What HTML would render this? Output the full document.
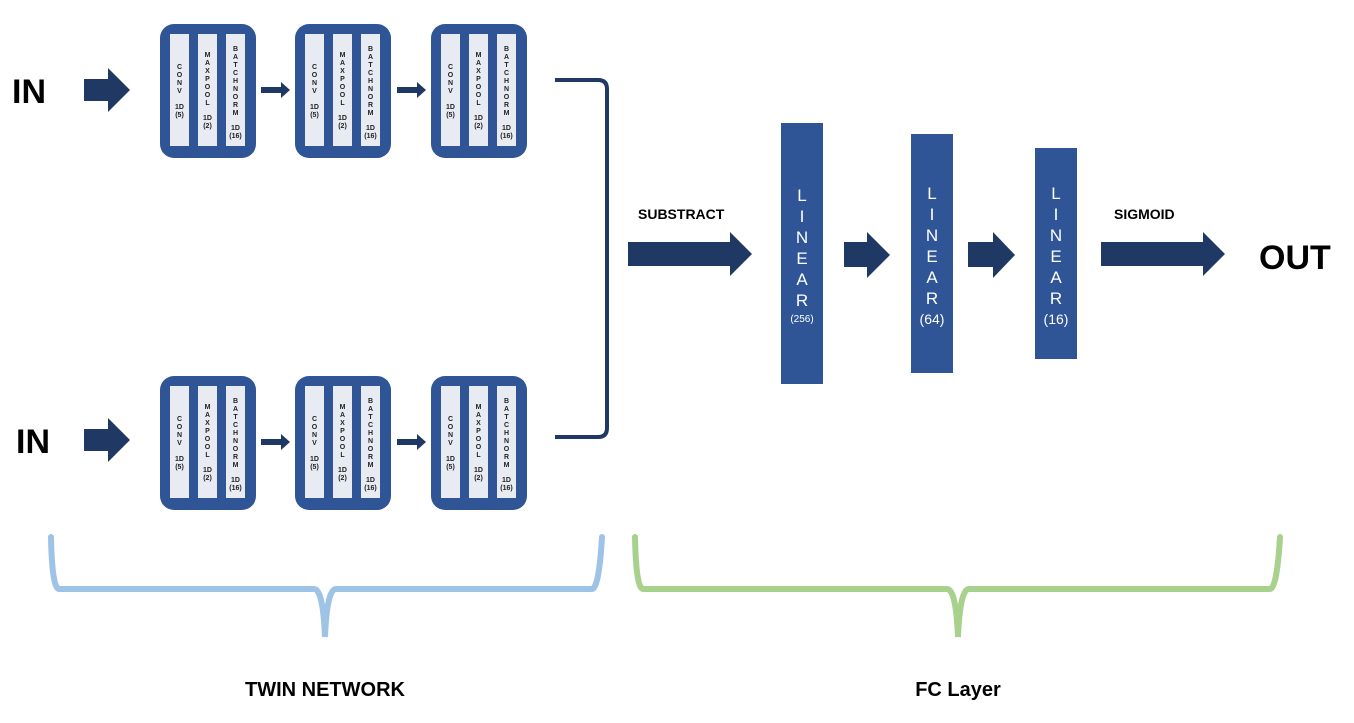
<!DOCTYPE html>
<html><head><meta charset="utf-8"><style>
html,body{margin:0;padding:0;background:#fff;}
svg{display:block;font-family:"Liberation Sans",sans-serif;}
.bt{font-size:7px;font-weight:bold;fill:#222;text-anchor:middle;}
.lt{font-size:17px;fill:#fff;text-anchor:middle;}
</style></head><body>
<svg width="1354" height="723" viewBox="0 0 1354 723" xmlns="http://www.w3.org/2000/svg">
<defs>
<g id="blk">
<rect x="0" y="0" width="96" height="134" rx="14" fill="#2f5597"/>
<rect x="10" y="10" width="19" height="112" fill="#e8ecf2"/>
<rect x="38" y="10" width="19" height="112" fill="#e8ecf2"/>
<rect x="66" y="10" width="19" height="112" fill="#e8ecf2"/>
</g>
</defs>
<g id="blocks">
<use href="#blk" x="160" y="24"/><use href="#blk" x="295" y="24"/><use href="#blk" x="431" y="24"/>
<use href="#blk" x="160" y="376"/><use href="#blk" x="295" y="376"/><use href="#blk" x="431" y="376"/>
</g>
<g class="bt">
<g transform="translate(160,24)"><text x="19.5" y="45"><tspan x="19.5">C</tspan><tspan x="19.5" dy="8">O</tspan><tspan x="19.5" dy="8">N</tspan><tspan x="19.5" dy="8">V</tspan><tspan x="19.5" dy="16">1D</tspan><tspan x="19.5" dy="8">(5)</tspan></text><text x="47.5" y="33"><tspan x="47.5">M</tspan><tspan x="47.5" dy="8">A</tspan><tspan x="47.5" dy="8">X</tspan><tspan x="47.5" dy="8">P</tspan><tspan x="47.5" dy="8">O</tspan><tspan x="47.5" dy="8">O</tspan><tspan x="47.5" dy="8">L</tspan><tspan x="47.5" dy="15">1D</tspan><tspan x="47.5" dy="8">(2)</tspan></text><text x="75.5" y="27"><tspan x="75.5">B</tspan><tspan x="75.5" dy="8">A</tspan><tspan x="75.5" dy="8">T</tspan><tspan x="75.5" dy="8">C</tspan><tspan x="75.5" dy="8">H</tspan><tspan x="75.5" dy="8">N</tspan><tspan x="75.5" dy="8">O</tspan><tspan x="75.5" dy="8">R</tspan><tspan x="75.5" dy="8">M</tspan><tspan x="75.5" dy="15">1D</tspan><tspan x="75.5" dy="8">(16)</tspan></text></g>
<g transform="translate(295,24)"><text x="19.5" y="45"><tspan x="19.5">C</tspan><tspan x="19.5" dy="8">O</tspan><tspan x="19.5" dy="8">N</tspan><tspan x="19.5" dy="8">V</tspan><tspan x="19.5" dy="16">1D</tspan><tspan x="19.5" dy="8">(5)</tspan></text><text x="47.5" y="33"><tspan x="47.5">M</tspan><tspan x="47.5" dy="8">A</tspan><tspan x="47.5" dy="8">X</tspan><tspan x="47.5" dy="8">P</tspan><tspan x="47.5" dy="8">O</tspan><tspan x="47.5" dy="8">O</tspan><tspan x="47.5" dy="8">L</tspan><tspan x="47.5" dy="15">1D</tspan><tspan x="47.5" dy="8">(2)</tspan></text><text x="75.5" y="27"><tspan x="75.5">B</tspan><tspan x="75.5" dy="8">A</tspan><tspan x="75.5" dy="8">T</tspan><tspan x="75.5" dy="8">C</tspan><tspan x="75.5" dy="8">H</tspan><tspan x="75.5" dy="8">N</tspan><tspan x="75.5" dy="8">O</tspan><tspan x="75.5" dy="8">R</tspan><tspan x="75.5" dy="8">M</tspan><tspan x="75.5" dy="15">1D</tspan><tspan x="75.5" dy="8">(16)</tspan></text></g>
<g transform="translate(431,24)"><text x="19.5" y="45"><tspan x="19.5">C</tspan><tspan x="19.5" dy="8">O</tspan><tspan x="19.5" dy="8">N</tspan><tspan x="19.5" dy="8">V</tspan><tspan x="19.5" dy="16">1D</tspan><tspan x="19.5" dy="8">(5)</tspan></text><text x="47.5" y="33"><tspan x="47.5">M</tspan><tspan x="47.5" dy="8">A</tspan><tspan x="47.5" dy="8">X</tspan><tspan x="47.5" dy="8">P</tspan><tspan x="47.5" dy="8">O</tspan><tspan x="47.5" dy="8">O</tspan><tspan x="47.5" dy="8">L</tspan><tspan x="47.5" dy="15">1D</tspan><tspan x="47.5" dy="8">(2)</tspan></text><text x="75.5" y="27"><tspan x="75.5">B</tspan><tspan x="75.5" dy="8">A</tspan><tspan x="75.5" dy="8">T</tspan><tspan x="75.5" dy="8">C</tspan><tspan x="75.5" dy="8">H</tspan><tspan x="75.5" dy="8">N</tspan><tspan x="75.5" dy="8">O</tspan><tspan x="75.5" dy="8">R</tspan><tspan x="75.5" dy="8">M</tspan><tspan x="75.5" dy="15">1D</tspan><tspan x="75.5" dy="8">(16)</tspan></text></g>
<g transform="translate(160,376)"><text x="19.5" y="45"><tspan x="19.5">C</tspan><tspan x="19.5" dy="8">O</tspan><tspan x="19.5" dy="8">N</tspan><tspan x="19.5" dy="8">V</tspan><tspan x="19.5" dy="16">1D</tspan><tspan x="19.5" dy="8">(5)</tspan></text><text x="47.5" y="33"><tspan x="47.5">M</tspan><tspan x="47.5" dy="8">A</tspan><tspan x="47.5" dy="8">X</tspan><tspan x="47.5" dy="8">P</tspan><tspan x="47.5" dy="8">O</tspan><tspan x="47.5" dy="8">O</tspan><tspan x="47.5" dy="8">L</tspan><tspan x="47.5" dy="15">1D</tspan><tspan x="47.5" dy="8">(2)</tspan></text><text x="75.5" y="27"><tspan x="75.5">B</tspan><tspan x="75.5" dy="8">A</tspan><tspan x="75.5" dy="8">T</tspan><tspan x="75.5" dy="8">C</tspan><tspan x="75.5" dy="8">H</tspan><tspan x="75.5" dy="8">N</tspan><tspan x="75.5" dy="8">O</tspan><tspan x="75.5" dy="8">R</tspan><tspan x="75.5" dy="8">M</tspan><tspan x="75.5" dy="15">1D</tspan><tspan x="75.5" dy="8">(16)</tspan></text></g>
<g transform="translate(295,376)"><text x="19.5" y="45"><tspan x="19.5">C</tspan><tspan x="19.5" dy="8">O</tspan><tspan x="19.5" dy="8">N</tspan><tspan x="19.5" dy="8">V</tspan><tspan x="19.5" dy="16">1D</tspan><tspan x="19.5" dy="8">(5)</tspan></text><text x="47.5" y="33"><tspan x="47.5">M</tspan><tspan x="47.5" dy="8">A</tspan><tspan x="47.5" dy="8">X</tspan><tspan x="47.5" dy="8">P</tspan><tspan x="47.5" dy="8">O</tspan><tspan x="47.5" dy="8">O</tspan><tspan x="47.5" dy="8">L</tspan><tspan x="47.5" dy="15">1D</tspan><tspan x="47.5" dy="8">(2)</tspan></text><text x="75.5" y="27"><tspan x="75.5">B</tspan><tspan x="75.5" dy="8">A</tspan><tspan x="75.5" dy="8">T</tspan><tspan x="75.5" dy="8">C</tspan><tspan x="75.5" dy="8">H</tspan><tspan x="75.5" dy="8">N</tspan><tspan x="75.5" dy="8">O</tspan><tspan x="75.5" dy="8">R</tspan><tspan x="75.5" dy="8">M</tspan><tspan x="75.5" dy="15">1D</tspan><tspan x="75.5" dy="8">(16)</tspan></text></g>
<g transform="translate(431,376)"><text x="19.5" y="45"><tspan x="19.5">C</tspan><tspan x="19.5" dy="8">O</tspan><tspan x="19.5" dy="8">N</tspan><tspan x="19.5" dy="8">V</tspan><tspan x="19.5" dy="16">1D</tspan><tspan x="19.5" dy="8">(5)</tspan></text><text x="47.5" y="33"><tspan x="47.5">M</tspan><tspan x="47.5" dy="8">A</tspan><tspan x="47.5" dy="8">X</tspan><tspan x="47.5" dy="8">P</tspan><tspan x="47.5" dy="8">O</tspan><tspan x="47.5" dy="8">O</tspan><tspan x="47.5" dy="8">L</tspan><tspan x="47.5" dy="15">1D</tspan><tspan x="47.5" dy="8">(2)</tspan></text><text x="75.5" y="27"><tspan x="75.5">B</tspan><tspan x="75.5" dy="8">A</tspan><tspan x="75.5" dy="8">T</tspan><tspan x="75.5" dy="8">C</tspan><tspan x="75.5" dy="8">H</tspan><tspan x="75.5" dy="8">N</tspan><tspan x="75.5" dy="8">O</tspan><tspan x="75.5" dy="8">R</tspan><tspan x="75.5" dy="8">M</tspan><tspan x="75.5" dy="15">1D</tspan><tspan x="75.5" dy="8">(16)</tspan></text></g>
</g>

<g fill="#203864">
<polygon points="84,79 108,79 108,68 130,90 108,112 108,101 84,101"/>
<polygon points="84,429 108,429 108,418 130,440 108,462 108,451 84,451"/>
<polygon points="261,87 281,87 281,82 290,90 281,98 281,93 261,93"/>
<polygon points="397,87 417,87 417,82 426,90 417,98 417,93 397,93"/>
<polygon points="261,439 281,439 281,434 290,442 281,450 281,445 261,445"/>
<polygon points="397,439 417,439 417,434 426,442 417,450 417,445 397,445"/>
<polygon points="628,242 730,242 730,232 752,254 730,276 730,266 628,266"/>
<polygon points="844,242 867,242 867,232 890,255 867,278 867,267 844,267"/>
<polygon points="968,242 993,242 993,232 1015,255 993,278 993,267 968,267"/>
<polygon points="1101,242 1203,242 1203,232 1225,254 1203,276 1203,266 1101,266"/>
</g>
<path d="M555,80 L598,80 Q607,80 607,89 L607,428 Q607,437 598,437 L555,437" fill="none" stroke="#203864" stroke-width="4"/>

<rect x="781" y="123" width="42" height="261" fill="#2f5597"/>
<rect x="911" y="134" width="42" height="239" fill="#2f5597"/>
<rect x="1035" y="148" width="42" height="211" fill="#2f5597"/>
<g class="lt">
<text x="802" y="201"><tspan x="802">L</tspan><tspan x="802" dy="21">I</tspan><tspan x="802" dy="21">N</tspan><tspan x="802" dy="21">E</tspan><tspan x="802" dy="21">A</tspan><tspan x="802" dy="21">R</tspan><tspan x="802" dy="16" font-size="10">(256)</tspan></text>
<text x="932" y="199"><tspan x="932">L</tspan><tspan x="932" dy="21">I</tspan><tspan x="932" dy="21">N</tspan><tspan x="932" dy="21">E</tspan><tspan x="932" dy="21">A</tspan><tspan x="932" dy="21">R</tspan><tspan x="932" dy="20" font-size="14">(64)</tspan></text>
<text x="1056" y="199"><tspan x="1056">L</tspan><tspan x="1056" dy="21">I</tspan><tspan x="1056" dy="21">N</tspan><tspan x="1056" dy="21">E</tspan><tspan x="1056" dy="21">A</tspan><tspan x="1056" dy="21">R</tspan><tspan x="1056" dy="20" font-size="14">(16)</tspan></text>
</g>

<path d="M51,537 Q52,588 59,589 L314,589 Q323,589 325,637 Q327,589 336,589 L592,589 Q599,588 602,537" fill="none" stroke="#9dc3e6" stroke-width="6" stroke-linecap="round"/>
<path d="M635,537 Q636,588 643,589 L947,589 Q956,589 958,637 Q960,589 969,589 L1270,589 Q1277,588 1280,537" fill="none" stroke="#a9d18e" stroke-width="6" stroke-linecap="round"/>

<g font-weight="bold" fill="#000">
<text x="12" y="103" font-size="34">IN</text>
<text x="16" y="453" font-size="34">IN</text>
<text x="1259" y="269" font-size="34">OUT</text>
<text x="638" y="219" font-size="14">SUBSTRACT</text>
<text x="1114" y="219" font-size="14">SIGMOID</text>
<text x="325" y="696" font-size="20" text-anchor="middle">TWIN NETWORK</text>
<text x="958" y="696" font-size="20" text-anchor="middle">FC Layer</text>
</g>
</svg>
</body></html>
